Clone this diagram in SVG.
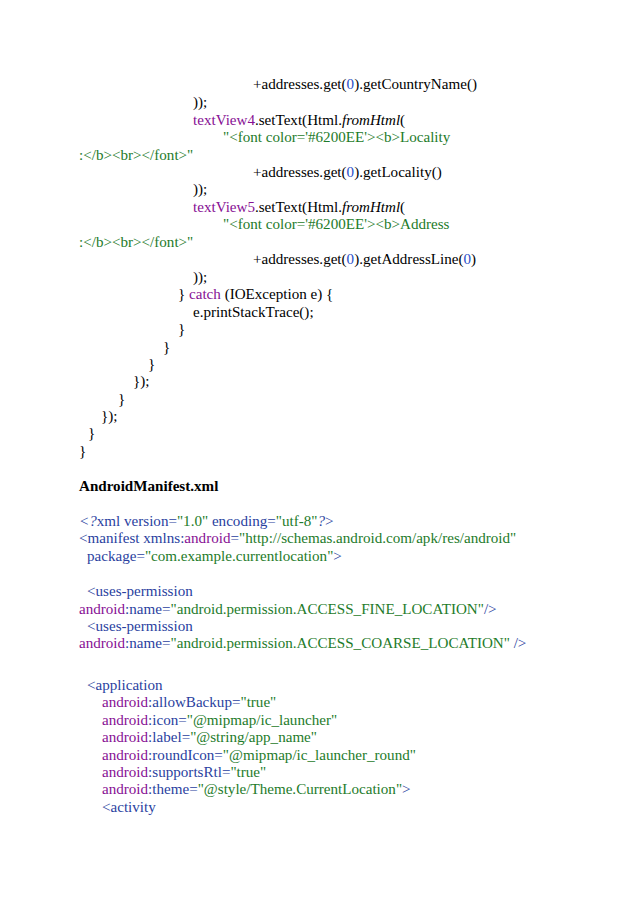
<svg xmlns="http://www.w3.org/2000/svg" width="638" height="902" viewBox="0 0 638 902">
<style>
text{font-family:'Liberation Serif','Times New Roman',Times,serif;font-size:15.1px;fill:#000;white-space:pre}
.p{fill:#871094}.g{fill:#1E7B2A}.b{fill:#2A50C8}.t{fill:#2A3FA0}.i{font-style:italic}
</style>
<rect width="638" height="902" fill="#fff"/>
<g id="java">
<text x="253" y="89">+addresses.get(<tspan class="b">0</tspan>).getCountryName()</text>
<text x="193" y="107">));</text>
<text x="193" y="125"><tspan class="p">textView4</tspan>.setText(Html.<tspan class="i">fromHtml</tspan>(</text>
<text x="223" y="142" class="g">"&lt;font color='#6200EE'&gt;&lt;b&gt;Locality</text>
<text x="79" y="160" class="g">:&lt;/b&gt;&lt;br&gt;&lt;/font&gt;"</text>
<text x="253" y="177">+addresses.get(<tspan class="b">0</tspan>).getLocality()</text>
<text x="193" y="194">));</text>
<text x="193" y="212"><tspan class="p">textView5</tspan>.setText(Html.<tspan class="i">fromHtml</tspan>(</text>
<text x="223" y="229" class="g">"&lt;font color='#6200EE'&gt;&lt;b&gt;Address</text>
<text x="79" y="247" class="g">:&lt;/b&gt;&lt;br&gt;&lt;/font&gt;"</text>
<text x="253" y="264">+addresses.get(<tspan class="b">0</tspan>).getAddressLine(<tspan class="b">0</tspan>)</text>
<text x="193" y="282">));</text>
<text x="178" y="299">} <tspan class="p">catch</tspan> (IOException e) {</text>
<text x="193" y="317">e.printStackTrace();</text>
<text x="178" y="334">}</text>
<text x="163" y="352">}</text>
<text x="148" y="369">}</text>
<text x="133" y="386">});</text>
<text x="118" y="404">}</text>
<text x="101" y="421">});</text>
<text x="88" y="438">}</text>
<text x="79" y="456">}</text>
</g>
<g id="manifest">
<text x="79" y="491" font-weight="bold">AndroidManifest.xml</text>
<text x="79" y="526" class="t"><tspan class="i">&lt;?</tspan>xml version=<tspan class="g">"1.0"</tspan> encoding=<tspan class="g">"utf-8"</tspan><tspan class="i">?</tspan>&gt;</text>
<text x="79" y="543" class="t">&lt;manifest xmlns:<tspan class="p">android</tspan>=<tspan class="g">"http://schemas.android.com/apk/res/android"</tspan></text>
<text x="87" y="561" class="t">package=<tspan class="g">"com.example.currentlocation"</tspan>&gt;</text>
<text x="87" y="596" class="t">&lt;uses-permission</text>
<text x="79" y="614" class="t"><tspan class="p">android</tspan>:name=<tspan class="g">"android.permission.ACCESS_FINE_LOCATION"</tspan>/&gt;</text>
<text x="87" y="631" class="t">&lt;uses-permission</text>
<text x="79" y="648" class="t"><tspan class="p">android</tspan>:name=<tspan class="g">"android.permission.ACCESS_COARSE_LOCATION"</tspan> /&gt;</text>
<text x="87" y="690" class="t">&lt;application</text>
<text x="102" y="707" class="t"><tspan class="p">android</tspan>:allowBackup=<tspan class="g">"true"</tspan></text>
<text x="102" y="725" class="t"><tspan class="p">android</tspan>:icon=<tspan class="g">"@mipmap/ic_launcher"</tspan></text>
<text x="102" y="742" class="t"><tspan class="p">android</tspan>:label=<tspan class="g">"@string/app_name"</tspan></text>
<text x="102" y="760" class="t"><tspan class="p">android</tspan>:roundIcon=<tspan class="g">"@mipmap/ic_launcher_round"</tspan></text>
<text x="102" y="777" class="t"><tspan class="p">android</tspan>:supportsRtl=<tspan class="g">"true"</tspan></text>
<text x="102" y="794" class="t"><tspan class="p">android</tspan>:theme=<tspan class="g">"@style/Theme.CurrentLocation"</tspan>&gt;</text>
<text x="102" y="812" class="t">&lt;activity</text>
</g>
</svg>
